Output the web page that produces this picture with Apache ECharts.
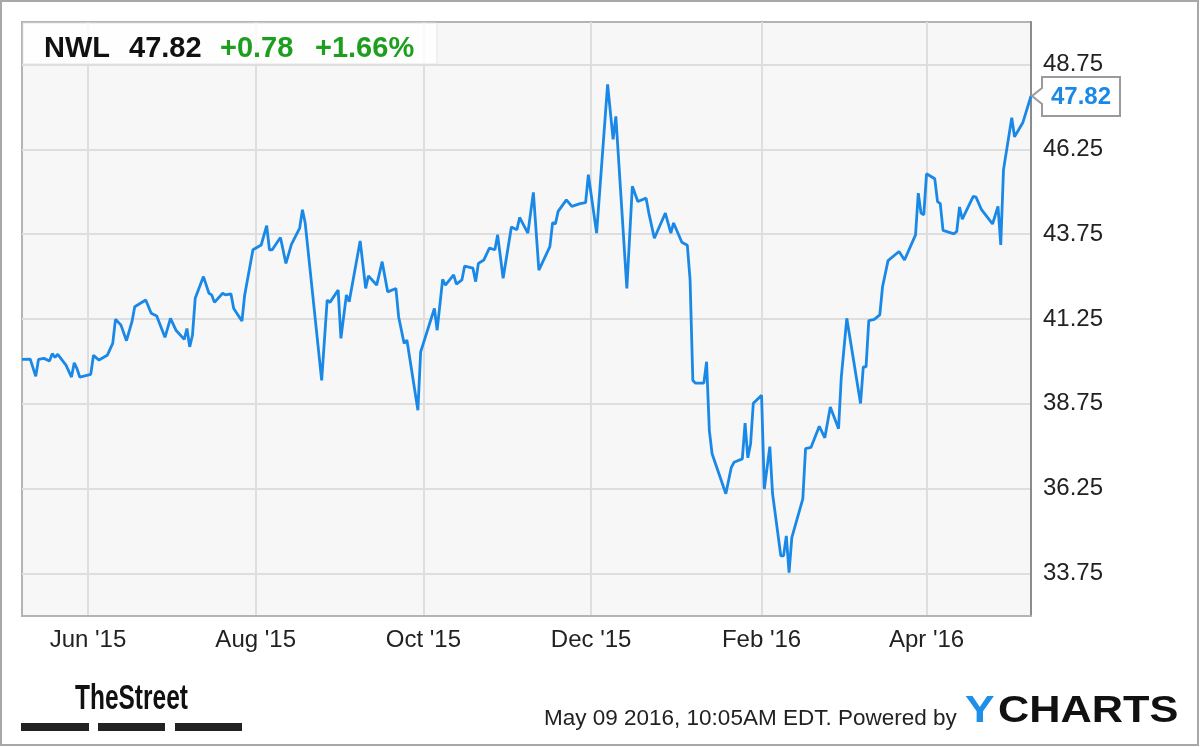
<!DOCTYPE html>
<html><head><meta charset="utf-8">
<script src="https://cdn.jsdelivr.net/npm/echarts@6/dist/echarts.min.js"></script>
<style>html,body{margin:0;padding:0;background:#fff;}#c{width:1200px;height:747px;}</style>
</head><body><div id="c"></div>
<script>
// ---- data (NWL daily close, turning points) ----
const dates = [
'2015-05-08','2015-05-11','2015-05-13','2015-05-14','2015-05-16','2015-05-18','2015-05-19','2015-05-20','2015-05-21','2015-05-24',
'2015-05-26','2015-05-27','2015-05-28','2015-05-29','2015-06-02','2015-06-03','2015-06-05','2015-06-08','2015-06-10','2015-06-11',
'2015-06-13','2015-06-15','2015-06-17','2015-06-18','2015-06-22','2015-06-24','2015-06-26','2015-06-29','2015-07-01','2015-07-03',
'2015-07-06','2015-07-07','2015-07-08','2015-07-09','2015-07-10','2015-07-13','2015-07-15','2015-07-16','2015-07-17','2015-07-20',
'2015-07-21','2015-07-23','2015-07-24','2015-07-27','2015-07-28','2015-07-31','2015-08-03','2015-08-05','2015-08-06','2015-08-07',
'2015-08-10','2015-08-12','2015-08-14','2015-08-17','2015-08-18','2015-08-19','2015-08-25','2015-08-27','2015-08-28','2015-08-31',
'2015-09-01','2015-09-03','2015-09-04','2015-09-08','2015-09-10','2015-09-11','2015-09-14','2015-09-16','2015-09-18','2015-09-21',
'2015-09-22','2015-09-24','2015-09-25','2015-09-29','2015-09-30','2015-10-05','2015-10-06','2015-10-08','2015-10-09','2015-10-12',
'2015-10-13','2015-10-15','2015-10-16','2015-10-19','2015-10-20','2015-10-21','2015-10-23','2015-10-25','2015-10-27','2015-10-28',
'2015-10-30','2015-11-02','2015-11-04','2015-11-05','2015-11-08','2015-11-10','2015-11-12','2015-11-16','2015-11-17','2015-11-18',
'2015-11-19','2015-11-22','2015-11-24','2015-11-27','2015-11-29','2015-11-30','2015-12-03','2015-12-07','2015-12-09','2015-12-10',
'2015-12-14','2015-12-16','2015-12-18','2015-12-21','2015-12-22','2015-12-24','2015-12-28','2015-12-30','2015-12-31','2016-01-03',
'2016-01-05','2016-01-06','2016-01-07','2016-01-08','2016-01-11','2016-01-12','2016-01-13','2016-01-14','2016-01-19','2016-01-21',
'2016-01-22','2016-01-25','2016-01-26','2016-01-27','2016-01-28','2016-01-29','2016-02-01','2016-02-02','2016-02-04','2016-02-05',
'2016-02-08','2016-02-09','2016-02-10','2016-02-11','2016-02-12','2016-02-16','2016-02-17','2016-02-19','2016-02-22','2016-02-24',
'2016-02-26','2016-02-29','2016-03-01','2016-03-03','2016-03-08','2016-03-09','2016-03-10','2016-03-11','2016-03-13','2016-03-15',
'2016-03-16','2016-03-18','2016-03-22','2016-03-24','2016-03-28','2016-03-29','2016-03-30','2016-03-31','2016-04-01','2016-04-04',
'2016-04-05','2016-04-06','2016-04-07','2016-04-11','2016-04-12','2016-04-13','2016-04-14','2016-04-18','2016-04-19','2016-04-21',
'2016-04-25','2016-04-27','2016-04-28','2016-04-29','2016-05-02','2016-05-03','2016-05-06','2016-05-09'
];
const prices = [
40.06,40.07,39.56,40.06,40.09,40.01,40.23,40.12,40.21,39.89,
39.54,39.96,39.79,39.54,39.62,40.18,40.04,40.18,40.53,41.24,
41.07,40.61,41.17,41.61,41.81,41.42,41.34,40.71,41.27,40.92,
40.65,40.97,40.43,40.77,41.86,42.50,42.01,41.96,41.74,42.01,
41.96,41.99,41.56,41.19,41.96,43.29,43.43,44.00,43.29,43.29,
43.65,42.89,43.45,43.93,44.47,44.08,39.44,41.81,41.74,42.10,
40.68,41.96,41.76,43.55,42.15,42.52,42.25,42.94,42.05,42.15,
41.31,40.53,40.63,38.56,40.28,41.56,40.92,42.42,42.25,42.55,
42.28,42.40,42.81,42.75,42.35,42.89,42.99,43.34,43.29,43.73,
42.45,43.96,43.88,44.24,43.78,44.98,42.69,43.38,44.09,44.05,
44.42,44.76,44.57,44.65,44.68,45.50,43.78,48.16,46.54,47.22,
42.15,45.16,44.71,44.81,44.37,43.63,44.37,43.78,44.08,43.51,
43.42,42.40,39.44,39.36,39.36,39.99,37.97,37.28,36.10,36.88,
37.03,37.13,38.18,37.16,37.57,38.77,39.00,36.24,37.49,36.10,
34.27,34.27,34.86,33.78,34.81,35.95,37.43,37.47,38.09,37.75,
38.66,38.02,39.54,41.27,38.76,39.84,39.84,41.20,41.24,41.37,
42.20,42.97,43.24,42.99,43.73,44.96,44.37,44.32,45.53,45.38,
44.71,44.65,43.86,43.76,43.83,44.55,44.19,44.86,44.84,44.47,
44.05,44.57,43.43,45.65,47.18,46.62,47.03,47.82
];
const yTicks = [33.75, 36.25, 38.75, 41.25, 43.75, 46.25, 48.75];
const monthTicks = ['2015-06-01','2015-08-01','2015-10-01','2015-12-01','2016-02-01','2016-04-01'];
const monthLabels = ["Jun '15","Aug '15","Oct '15","Dec '15","Feb '16","Apr '16"];
const xRange = ['2015-05-08','2016-05-09'];
const yRange = [32.5, 50];
const headerItems = ['NWL', '47.82', '+0.78', '+1.66%'];
const lastLabel = '47.82';
const stampText = 'May 09 2016, 10:05AM EDT. Powered by';

// ---- build ----
const toTs = s => { const [y,m,d] = s.split('-').map(Number); return new Date(y, m-1, d).getTime(); };
const seriesData = dates.map((d,i) => [toTs(d), prices[i]]);
const monthTs = monthTicks.map(toTs);
const FONT = '"Liberation Sans", Arial, Helvetica, sans-serif';
const BLUE = '#1a88e6';
const GREEN = '#1e9e1e';

const chart = echarts.init(document.getElementById('c'), null, {renderer:'canvas'});
const option = {
  animation: false,
  backgroundColor: '#fff',
  grid: { left: 22, right: 169, top: 22, bottom: 131, show: true, backgroundColor: '#f7f7f7', borderColor: '#b4b4b4', borderWidth: 2 },
  xAxis: {
    type: 'value', min: toTs(xRange[0]), max: toTs(xRange[1]),
    axisLine: { show: true, lineStyle: { color: '#b4b4b4', width: 2 } },
    axisTick: { show: false, customValues: monthTs },
    splitLine: { show: true, lineStyle: { color: '#dedede', width: 2 } },
    axisLabel: {
      customValues: monthTs, margin: 12, color: '#222', fontSize: 24, fontFamily: FONT,
      formatter: v => { for (let i = 0; i < monthTs.length; i++) if (Math.abs(monthTs[i]-v) < 43200000) return monthLabels[i]; return ''; }
    }
  },
  yAxis: {
    type: 'value', position: 'right', min: yRange[0], max: yRange[1], scale: true,
    axisLine: { show: true, lineStyle: { color: '#8c8c8c', width: 2 } },
    axisTick: { show: false, customValues: yTicks },
    splitLine: { show: true, lineStyle: { color: '#dedede', width: 2 } },
    axisLabel: { customValues: yTicks, margin: 12, color: '#222', fontSize: 24, fontFamily: FONT, formatter: v => v.toFixed(2) }
  },
  series: [{
    type: 'line', data: seriesData, showSymbol: false, symbol: 'none',
    lineStyle: { color: BLUE, width: 2.8 }, z: 3
  }]
};
chart.setOption(option);

const last = seriesData[seriesData.length-1];
const p = chart.convertToPixel({gridIndex: 0}, last);
const px = p[0], py = p[1];

const hdrX = [44, 129, 220, 315];
const hdrColors = ['#111', '#111', GREEN, GREEN];
const graphics = [
  { type: 'rect', shape: { x: 1, y: 1, width: 1197, height: 744 }, style: { fill: 'none', stroke: '#a8a8a8', lineWidth: 2 }, z: 100 },
  { type: 'rect', shape: { x: 23, y: 23, width: 414, height: 41 }, style: { fill: 'rgba(255,255,255,0.8)', stroke: 'rgba(225,225,225,0.8)', lineWidth: 1 }, z: 10 },
  ...headerItems.map((t,i) => ({ type: 'text', x: hdrX[i], y: 49, style: { text: t, fill: hdrColors[i], font: 'bold 29px ' + FONT, verticalAlign: 'middle' }, z: 11 })),
  { type: 'polygon', shape: { points: [[px+1,py],[px+11,py-8],[px+11,py-19],[px+89,py-19],[px+89,py+20],[px+11,py+20],[px+11,py+8]] },
    style: { fill: '#fff', stroke: '#9a9a9a', lineWidth: 2 }, z: 12 },
  { type: 'text', x: px+50, y: py+1, style: { text: lastLabel, fill: BLUE, font: 'bold 24px ' + FONT, align: 'center', verticalAlign: 'middle' }, z: 13 },
  // footer
  { type: 'text', x: 75, y: 699, scaleX: 0.72, scaleY: 1.05, style: { text: 'TheStreet', fill: '#111', font: 'bold 34px ' + FONT, verticalAlign: 'middle' }, z: 11 },
  { type: 'rect', shape: { x: 21, y: 723, width: 68, height: 8 }, style: { fill: '#222' } },
  { type: 'rect', shape: { x: 98, y: 723, width: 67, height: 8 }, style: { fill: '#222' } },
  { type: 'rect', shape: { x: 175, y: 723, width: 67, height: 8 }, style: { fill: '#222' } },
  { type: 'text', x: 544, y: 719, style: { text: stampText, fill: '#222', font: '22.5px ' + FONT, verticalAlign: 'middle' } },
  { type: 'text', x: 965, y: 712, scaleX: 1.2, style: { text: 'Y', fill: '#1e8fe8', font: 'bold 37px ' + FONT, verticalAlign: 'middle' } },
  { type: 'text', x: 998, y: 712, scaleX: 1.17, style: { text: 'CHARTS', fill: '#111', font: 'bold 37px ' + FONT, verticalAlign: 'middle' } }
];
chart.setOption({ graphic: graphics });
</script></body></html>
